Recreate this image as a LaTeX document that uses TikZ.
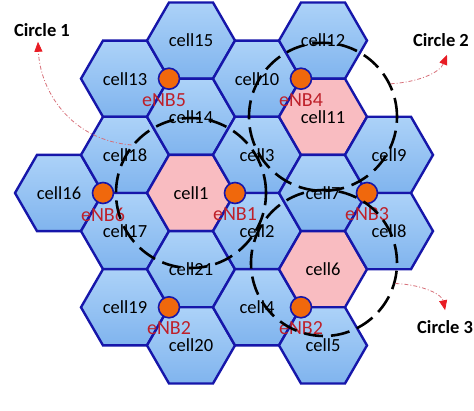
\documentclass[tikz,border=0pt]{standalone}
\usepackage{fontspec}
\setmainfont{Carlito}
\usetikzlibrary{shapes.geometric, arrows.meta, positioning}

\definecolor{celltop}{RGB}{172,210,248}
\definecolor{cellbot}{RGB}{128,180,238}
\definecolor{cellpink}{RGB}{249,188,193}
\definecolor{celledge}{RGB}{22,22,170}
\definecolor{enborange}{RGB}{240,104,12}
\definecolor{enbred}{RGB}{190,32,42}
\definecolor{arrowred}{RGB}{214,110,120}
\definecolor{tipred}{RGB}{232,28,36}

\begin{document}
\begin{tikzpicture}[x=1pt, y=-1pt,
  cell/.style={regular polygon, regular polygon sides=6, minimum size=88pt,
    inner sep=0pt, outer sep=0pt, draw=celledge, line width=2.4pt,
    font=\fontsize{18.5}{20}\selectfont},
  bluecell/.style={cell, top color=celltop, bottom color=cellbot},
  pinkcell/.style={cell, fill=cellpink},
  enb/.style={circle, draw=celledge, line width=1.6pt, fill=enborange,
    minimum size=21pt, inner sep=0pt},
  enblabel/.style={text=enbred, inner sep=0pt, font=\fontsize{20}{22}\selectfont},
  rangecircle/.style={circle, draw=black, line width=2.6pt,
    dash pattern=on 19pt off 8pt, inner sep=0pt},
  circlelabel/.style={inner sep=0pt, font=\bfseries\fontsize{18.5}{20}\selectfont},
  pointer/.style={-{Triangle[length=10pt, width=8pt, color=tipred]}, arrowred,
    line width=0.8pt, dash pattern=on 4pt off 2pt on 1pt off 2pt}
]
\useasboundingbox (0,0) rectangle (474,411);

% hexagonal cells, column by column
\node[bluecell] (c16) at (59,193) {cell16};

\node[bluecell] (c13) at (125,78.7) {cell13};
\node[bluecell] (c18) at (125,154.9) {cell18};
\node[bluecell] (c17) at (125,231.1) {cell17};
\node[bluecell] (c19) at (125,307.3) {cell19};

\node[bluecell] (c15) at (191,40.6) {cell15};
\node[bluecell] (c14) at (191,116.8) {cell14};
\node[pinkcell] (c1) at (191,193) {cell1};
\node[bluecell] (c21) at (191,269.2) {cell21};
\node[bluecell] (c20) at (191,345.4) {cell20};

\node[bluecell] (c10) at (257,78.7) {cell10};
\node[bluecell] (c3) at (257,154.9) {cell3};
\node[bluecell] (c2) at (257,231.1) {cell2};
\node[bluecell] (c4) at (257,307.3) {cell4};

\node[bluecell] (c12) at (323,40.6) {cell12};
\node[pinkcell] (c11) at (323,116.8) {cell11};
\node[bluecell] (c7) at (323,193) {cell7};
\node[pinkcell] (c6) at (323,269.2) {cell6};
\node[bluecell] (c5) at (323,345.4) {cell5};

\node[bluecell] (c9) at (389,154.9) {cell9};
\node[bluecell] (c8) at (389,231.1) {cell8};

% base stations
\node[enb] (e5) at (c13.east) {};
\node[enb] (e6) at (c16.east) {};
\node[enb] (e1) at (c1.east) {};
\node[enb] (e4) at (c10.east) {};
\node[enb] (e3) at (c7.east) {};
\node[enb] (e2a) at (c19.east) {};
\node[enb] (e2b) at (c4.east) {};

\node[enblabel, below=3pt of e5, xshift=-5pt] (l5) {eNB5};
\node[enblabel, below=3pt of e6] (l6) {eNB6};
\node[enblabel, below=3pt of e1] (l1) {eNB1};
\node[enblabel, below=3pt of e4] (l4) {eNB4};
\node[enblabel, below=3pt of e3] (l3) {eNB3};
\node[enblabel, below=3pt of e2a] (l2a) {eNB2};
\node[enblabel, below=3pt of e2b] (l2b) {eNB2};

% coverage circles
\node[rangecircle, minimum size=150pt] (r1) at (c1) {};
\node[rangecircle, minimum size=148pt] (r2) at (c11) {};
\node[rangecircle, minimum size=146pt] (r3) at (324,263) {};

\node[circlelabel] (t1) at (42,30) {Circle 1};
\node[circlelabel] (t2) at (441,40) {Circle 2};
\node[circlelabel, anchor=west] (t3) at (417,327) {Circle 3};

\draw[pointer] (r1.141) .. controls (70,140) and (40,90) .. ([xshift=-4pt, yshift=-5pt]t1.south);
\draw[pointer] (r2.26) .. controls (420,82) and (440,72) .. ([xshift=6pt, yshift=-8pt]t2.south);
\draw[pointer] (r3.-16) .. controls (425,285) and (442,295) .. ([yshift=10pt]t3.north);
\end{tikzpicture}
\end{document}
